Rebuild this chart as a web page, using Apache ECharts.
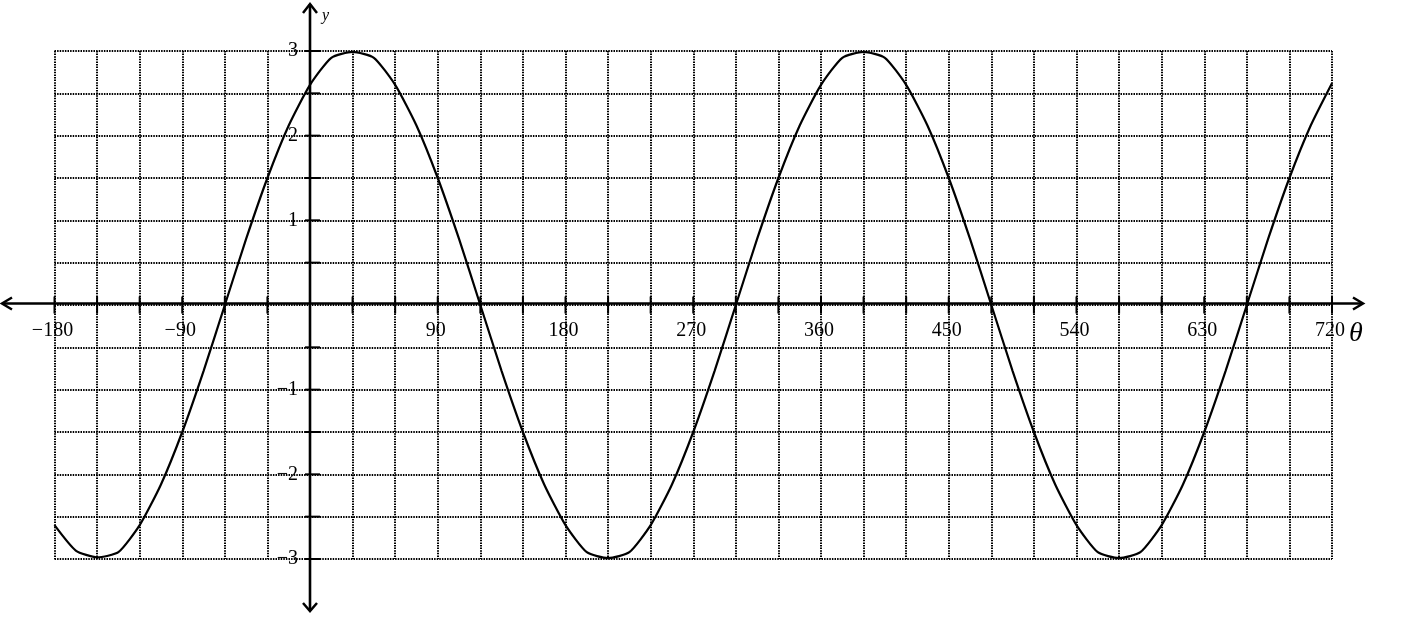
<!DOCTYPE html>
<html>
<head>
<meta charset="utf-8">
<script src="https://cdn.jsdelivr.net/npm/echarts@6/dist/echarts.min.js"></script>
<style>
html,body{margin:0;padding:0;background:#fff;}
#chart{width:1406px;height:626px;}
</style>
</head>
<body>
<div id="chart"></div>
<script>
// theta values (degrees) and curve values
const thetaValues = [-180,-165,-150,-135,-120,-105,-90,-75,-60,-45,-30,-15,0,15,30,45,60,75,90,105,120,135,150,165,180,195,210,225,240,255,270,285,300,315,330,345,360,375,390,405,420,435,450,465,480,495,510,525,540,555,570,585,600,615,630,645,660,675,690,705,720];
const yValues = [-2.6,-2.9,-2.98,-2.92,-2.6,-2.12,-1.5,-0.78,0,0.78,1.5,2.12,2.6,2.92,2.99,2.92,2.6,2.12,1.5,0.78,0,-0.78,-1.5,-2.12,-2.6,-2.92,-2.99,-2.92,-2.6,-2.12,-1.5,-0.78,0,0.78,1.5,2.12,2.6,2.92,2.99,2.92,2.6,2.12,1.5,0.78,0,-0.78,-1.5,-2.12,-2.6,-2.92,-2.99,-2.92,-2.6,-2.12,-1.5,-0.78,0,0.78,1.5,2.12,2.62];
const xLabelValues = [-180,-90,90,180,270,360,450,540,630,720];
const yLabelValues = [3,2,1,-1,-2,-3];
const xMin = -180, xMax = 720, xStep = 30;
const yMin = -3, yMax = 3, yStep = 0.5;

const serif = '"Liberation Serif","DejaVu Serif",serif';
const fmt = v => (v < 0 ? '\u2212' + Math.abs(v) : String(v));
const gridLine = {show:true, lineStyle:{color:'#000', width:2, type:[1.5,1.1]}};

const chart = echarts.init(document.getElementById('chart'), null, {renderer:'canvas'});
chart.setOption({
  animation:false,
  backgroundColor:'#fff',
  grid:{left:54.5, right:74, top:51, bottom:67, containLabel:false},
  xAxis:{
    type:'value', min:xMin, max:xMax, interval:xStep,
    axisLine:{show:false},
    axisTick:{show:false},
    splitLine:gridLine,
    axisLabel:{show:false}
  },
  yAxis:{
    type:'value', min:yMin, max:yMax, interval:yStep,
    axisLine:{show:false},
    axisTick:{show:false},
    splitLine:gridLine,
    axisLabel:{show:false}
  },
  series:[{
    type:'line',
    data: thetaValues.map((t,i) => [t, yValues[i]]),
    showSymbol:false, smooth:0.2,
    lineStyle:{color:'#000', width:2.2},
    z:5
  }]
});

// axes with arrows, crossing ticks and labels, placed through the chart's own scales
const origin = chart.convertToPixel({gridIndex:0}, [0,0]);
const x0 = origin[0], y0 = origin[1] - 1.5;
const g = [];
const ls = w => ({stroke:'#000', lineWidth:w, fill:null});
g.push({type:'line', shape:{x1:2, y1:y0, x2:1363, y2:y0}, style:ls(2.6), z:10});
g.push({type:'polyline', shape:{points:[[12,y0-6],[2,y0],[12,y0+6]]}, style:ls(2.5), z:10});
g.push({type:'polyline', shape:{points:[[1353,y0-6],[1363,y0],[1353,y0+6]]}, style:ls(2.5), z:10});
g.push({type:'line', shape:{x1:x0, y1:4, x2:x0, y2:611}, style:ls(2.6), z:10});
g.push({type:'polyline', shape:{points:[[x0-7,13],[x0,4],[x0+7,13]]}, style:ls(2.5), z:10});
g.push({type:'polyline', shape:{points:[[x0-7,603],[x0,611],[x0+7,603]]}, style:ls(2.5), z:10});
for (let v = xMin; v <= xMax; v += xStep) {
  if (v === 0) continue;
  const px = chart.convertToPixel({gridIndex:0}, [v,0])[0];
  g.push({type:'line', shape:{x1:px, y1:y0-7, x2:px, y2:y0+10}, style:ls(2), z:10});
}
for (let k = 0; yMin + k*yStep <= yMax + 1e-9; k++) {
  const v = yMin + k*yStep;
  if (Math.abs(v) < 1e-9) continue;
  const py = chart.convertToPixel({gridIndex:0}, [0,v])[1];
  g.push({type:'line', shape:{x1:x0-5, y1:py, x2:x0+10, y2:py}, style:ls(2), z:10});
}
xLabelValues.forEach(v => {
  const px = chart.convertToPixel({gridIndex:0}, [v,0])[0];
  g.push({type:'text', x:px-2, y:y0+27, style:{text:fmt(v), font:'20px ' + serif, fill:'#000', align:'center', verticalAlign:'middle'}, z:11});
});
yLabelValues.forEach(v => {
  const py = chart.convertToPixel({gridIndex:0}, [0,v])[1];
  g.push({type:'text', x:x0-12, y:py, style:{text:fmt(v), font:'20px ' + serif, fill:'#000', align:'right', verticalAlign:'middle'}, z:11});
});
g.push({type:'text', x:x0+12, y:8, style:{text:'y', font:'italic 16px ' + serif, fill:'#000'}, z:10});
g.push({type:'text', x:1349, y:320, style:{text:'\u03B8', font:'italic 28px ' + serif, fill:'#000'}, z:10});
chart.setOption({graphic:g});
</script>
</body>
</html>
